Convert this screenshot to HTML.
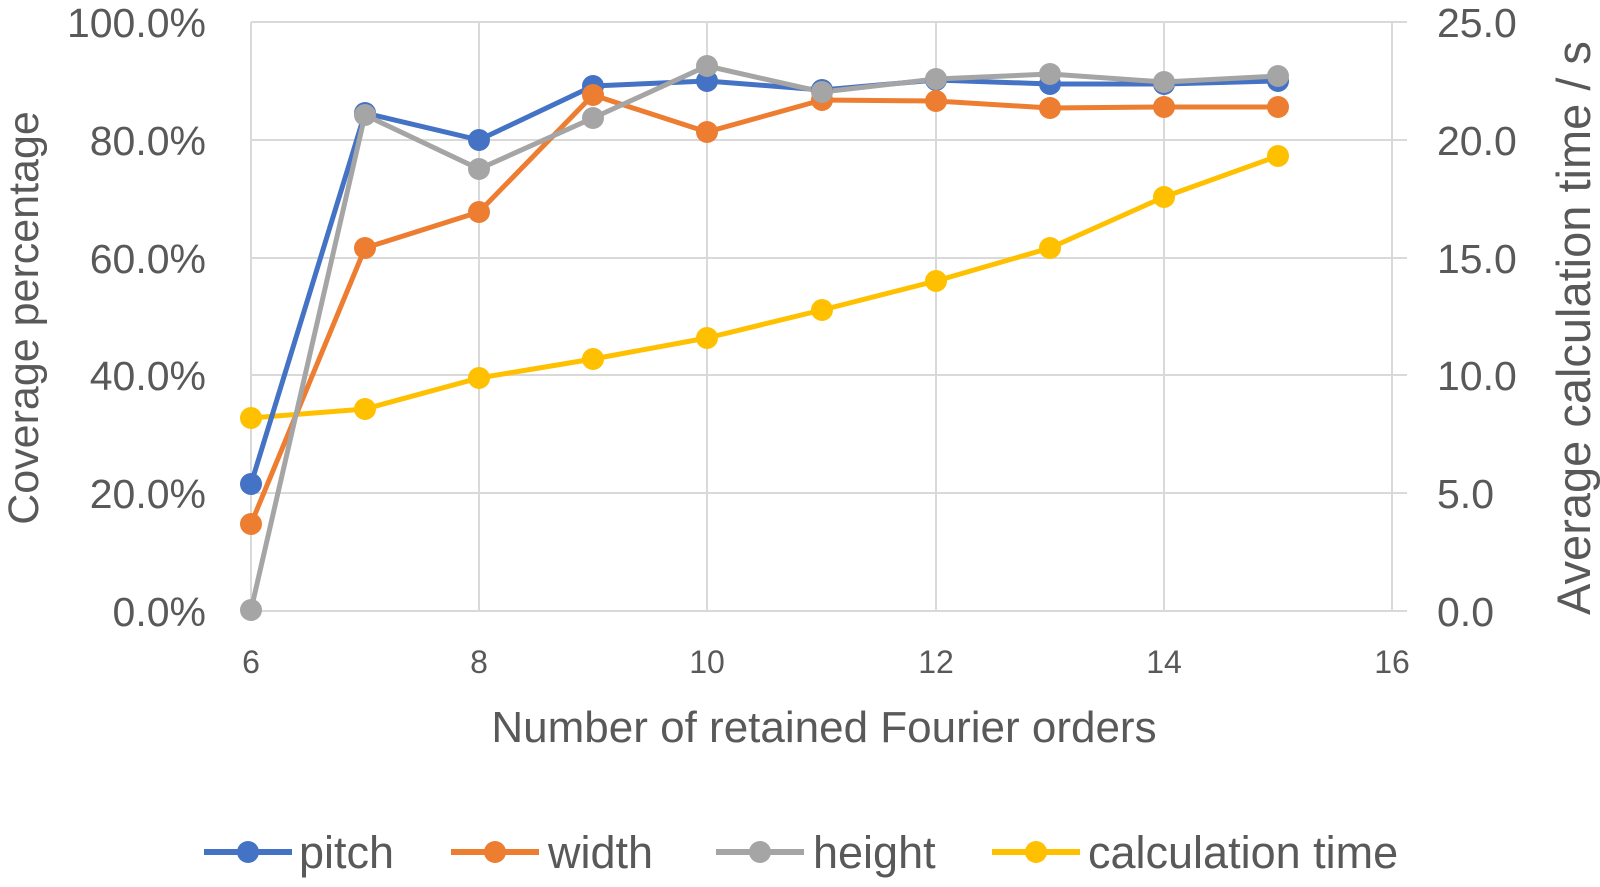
<!DOCTYPE html>
<html><head><meta charset="utf-8"><style>
html,body{margin:0;padding:0;background:#fff;}
svg text{font-family:"Liberation Sans",sans-serif;fill:#595959;}
</style></head><body>
<svg width="1600" height="882" viewBox="0 0 1600 882" xmlns="http://www.w3.org/2000/svg">
<g stroke="#d9d9d9" stroke-width="2">
<line x1="251" y1="22" x2="1407" y2="22"/>
<line x1="251" y1="140" x2="1407" y2="140"/>
<line x1="251" y1="258" x2="1407" y2="258"/>
<line x1="251" y1="375" x2="1407" y2="375"/>
<line x1="251" y1="493" x2="1407" y2="493"/>
<line x1="251" y1="611" x2="1407" y2="611"/>
<line x1="251" y1="22" x2="251" y2="611"/>
<line x1="479" y1="22" x2="479" y2="611"/>
<line x1="707" y1="22" x2="707" y2="611"/>
<line x1="936" y1="22" x2="936" y2="611"/>
<line x1="1164" y1="22" x2="1164" y2="611"/>
<line x1="1392" y1="22" x2="1392" y2="611"/>
</g>
<g font-size="41" text-anchor="end">
<text x="206" y="37">100.0%</text>
<text x="206" y="155">80.0%</text>
<text x="206" y="273">60.0%</text>
<text x="206" y="390">40.0%</text>
<text x="206" y="508">20.0%</text>
<text x="206" y="626">0.0%</text>
</g>
<g font-size="41" text-anchor="start">
<text x="1437" y="37">25.0</text>
<text x="1437" y="155">20.0</text>
<text x="1437" y="273">15.0</text>
<text x="1437" y="390">10.0</text>
<text x="1437" y="508">5.0</text>
<text x="1437" y="626">0.0</text>
</g>
<g font-size="32" text-anchor="middle">
<text x="251" y="673">6</text>
<text x="479" y="673">8</text>
<text x="707" y="673">10</text>
<text x="936" y="673">12</text>
<text x="1164" y="673">14</text>
<text x="1392" y="673">16</text>
</g>
<text x="824" y="742" font-size="44" text-anchor="middle">Number of retained Fourier orders</text>
<text transform="translate(38,318) rotate(-90)" font-size="43" text-anchor="middle">Coverage percentage</text>
<text transform="translate(1590,328) rotate(-90)" font-size="47" text-anchor="middle">Average calculation time / s</text>

<g fill="none" stroke-width="5" stroke-linejoin="round">
<polyline stroke="#ffc000" points="251,418 365,409 479,378 593,359 707,338 822,310 936,281 1050,248 1164,197 1278,156"/>
<polyline stroke="#4472c4" points="251,484 365,113 479,140 593,86 707,81 822,90 936,80 1050,84 1164,84 1278,81"/>
<polyline stroke="#ed7d31" points="251,524 365,248 479,212 593,95 707,132 822,100 936,101 1050,108 1164,107 1278,107"/>
<polyline stroke="#a5a5a5" points="251,610 365,115 479,169 593,118 707,66 822,92 936,79 1050,74 1164,82 1278,76"/>
</g>
<g fill="#ffc000"><circle cx="251" cy="418" r="11"/><circle cx="365" cy="409" r="11"/><circle cx="479" cy="378" r="11"/><circle cx="593" cy="359" r="11"/><circle cx="707" cy="338" r="11"/><circle cx="822" cy="310" r="11"/><circle cx="936" cy="281" r="11"/><circle cx="1050" cy="248" r="11"/><circle cx="1164" cy="197" r="11"/><circle cx="1278" cy="156" r="11"/></g>
<g fill="#4472c4"><circle cx="251" cy="484" r="11"/><circle cx="365" cy="113" r="11"/><circle cx="479" cy="140" r="11"/><circle cx="593" cy="86" r="11"/><circle cx="707" cy="81" r="11"/><circle cx="822" cy="90" r="11"/><circle cx="936" cy="80" r="11"/><circle cx="1050" cy="84" r="11"/><circle cx="1164" cy="84" r="11"/><circle cx="1278" cy="81" r="11"/></g>
<g fill="#ed7d31"><circle cx="251" cy="524" r="11"/><circle cx="365" cy="248" r="11"/><circle cx="479" cy="212" r="11"/><circle cx="593" cy="95" r="11"/><circle cx="707" cy="132" r="11"/><circle cx="822" cy="100" r="11"/><circle cx="936" cy="101" r="11"/><circle cx="1050" cy="108" r="11"/><circle cx="1164" cy="107" r="11"/><circle cx="1278" cy="107" r="11"/></g>
<g fill="#a5a5a5"><circle cx="251" cy="610" r="11"/><circle cx="365" cy="115" r="11"/><circle cx="479" cy="169" r="11"/><circle cx="593" cy="118" r="11"/><circle cx="707" cy="66" r="11"/><circle cx="822" cy="92" r="11"/><circle cx="936" cy="79" r="11"/><circle cx="1050" cy="74" r="11"/><circle cx="1164" cy="82" r="11"/><circle cx="1278" cy="76" r="11"/></g>

<g font-size="45">
<line x1="204" y1="852" x2="292" y2="852" stroke="#4472c4" stroke-width="6"/><circle cx="248" cy="852" r="11" fill="#4472c4"/>
<text x="299" y="868">pitch</text>
<line x1="451" y1="852" x2="539" y2="852" stroke="#ed7d31" stroke-width="6"/><circle cx="495" cy="852" r="11" fill="#ed7d31"/>
<text x="548" y="868">width</text>
<line x1="716" y1="852" x2="804" y2="852" stroke="#a5a5a5" stroke-width="6"/><circle cx="760" cy="852" r="11" fill="#a5a5a5"/>
<text x="813" y="868">height</text>
<line x1="992" y1="852" x2="1080" y2="852" stroke="#ffc000" stroke-width="6"/><circle cx="1036" cy="852" r="11" fill="#ffc000"/>
<text x="1088" y="868">calculation time</text>
</g>
</svg>
</body></html>
